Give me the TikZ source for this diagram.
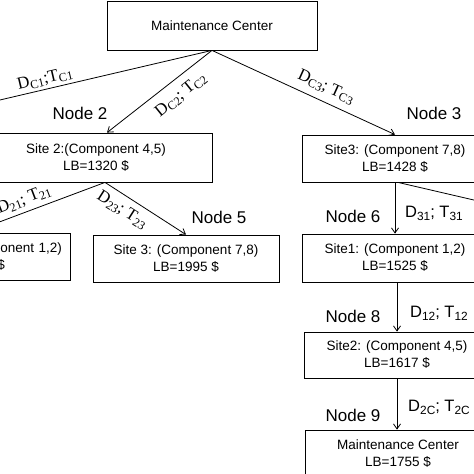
\documentclass[tikz,border=0pt]{standalone}
\usepackage{fontspec}
\usepackage{graphicx}
\setmainfont{Liberation Sans}
\newfontfamily\serifl{Liberation Serif}
\usetikzlibrary{arrows.meta}
\newcommand\sbs[1]{\raisebox{-0.35ex}{\scalebox{0.72}{#1}}}

\tikzset{
  box/.style={draw, line width=0.8pt, minimum width=186pt, minimum height=47pt, align=center, inner sep=0pt, font=\fontsize{13.5}{17}\selectfont},
  nlabel/.style={font=\fontsize{17}{17}\selectfont},
  dlabel/.style={font=\fontsize{16.5}{17}\selectfont},
  tlabel/.style={font=\serifl\fontsize{17}{17}\selectfont},
  arr/.style={-{Straight Barb[length=5pt,width=7pt]}}
}

\begin{document}
\begin{tikzpicture}[x=1pt,y=-1pt,line width=0.8pt]
\useasboundingbox (0,0) rectangle (474,474);
\clip (0,0) rectangle (474,474);

\node[box, minimum width=210pt, minimum height=49pt] (mc) at (212,25.5) {Maintenance Center};
\node[box, minimum width=232pt, minimum height=49pt] (s2) at (96,157.5) {Site 2:(Component 4,5)\\LB=1320 \$};
\node[box] (s3) at (395,158.5) {Site3: (Component 7,8)\\LB=1428 \$};
\node[box, text width=170pt, align=right] (s4) at (-23,256.5) {Site1: (Component 1,2)\\\$\hspace{57pt}\mbox{}};
\node[box] (s5) at (186,258.5) {Site 3: (Component 7,8)\\LB=1995 \$};
\node[box, minimum height=48pt] (s6) at (395,258) {Site1: (Component 1,2)\\LB=1525 \$};
\node[box, minimum height=46pt] (s8) at (397,355) {Site2: (Component 4,5)\\LB=1617 \$};
\node[box] (s9) at (398,453.5) {Maintenance Center\\LB=1755 \$};

\coordinate (n1) at (-60,114);
\coordinate (n7) at (560,220);

\draw (mc.south) -- (n1);
\draw[arr] (mc.south) -- ([xshift=11pt]s2.north);
\draw[arr] (mc.south) -- (s3.north);
\draw[arr] ([xshift=9pt]s2.south) -- ([xshift=-6pt]s4.north);
\draw[arr] ([xshift=9pt]s2.south) -- (s5.north);
\draw[arr] (s3.south) -- (s6.north);
\draw ([xshift=3pt]s3.south) -- (n7);
\draw[arr] (s6.south -| s8.north) -- (s8.north);
\draw[arr] (s8.south) -- (s8.south |- s9.north);

\node[nlabel] (l2) at (80,113.5) {Node 2};
\node[nlabel] (l3) at (434,113.5) {Node 3};
\node[nlabel] (l5) at (219,217.5) {Node 5};
\node[nlabel] (l6) at (353,216) {Node 6};
\node[nlabel] (l8) at (353,316) {Node 8};
\node[nlabel] (l9) at (353,415) {Node 9};

\node[tlabel, rotate=13.2] (d1) at (45,79) {D\sbs{C1};T\sbs{C1}};
\node[tlabel, rotate=38.8] (d2) at (181,95) {D\sbs{C2}; T\sbs{C2}};
\node[tlabel, rotate=-24.3] (d3) at (326,87) {D\sbs{C3}; T\sbs{C3}};
\node[tlabel, rotate=20.9] (d21) at (24,200) {D\sbs{21}; T\sbs{21}};
\node[tlabel, rotate=-32.5] (d23) at (122,210) {D\sbs{23}; T\sbs{23}};
\node[dlabel] (d31) at (434,213) {D\sbs{31}; T\sbs{31}};
\node[dlabel] (d12) at (439,313) {D\sbs{12}; T\sbs{12}};
\node[dlabel] (d2c) at (439,407) {D\sbs{2C}; T\sbs{2C}};
\end{tikzpicture}
\end{document}
